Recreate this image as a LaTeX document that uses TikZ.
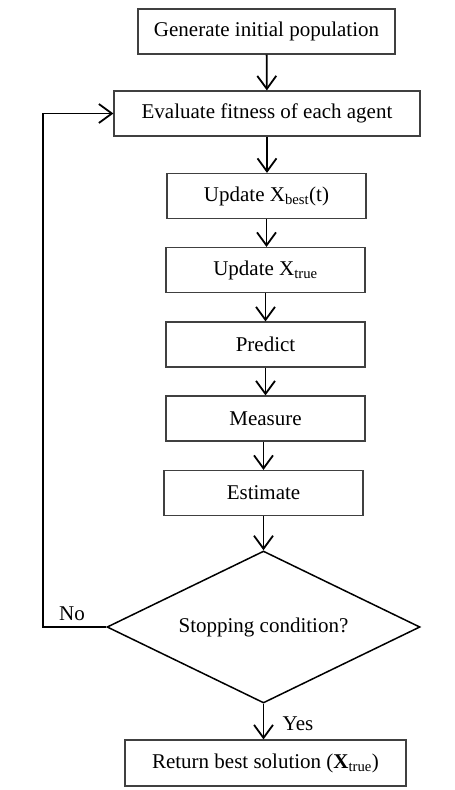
\documentclass[tikz,border=0pt]{standalone}
\usepackage{fontspec}
\setmainfont{Liberation Serif}
\usetikzlibrary{shapes.geometric,arrows.meta}
\begin{document}
\begin{tikzpicture}[x=1pt,y=-1pt,
  procbox/.style={draw=black!75,line width=1.2pt,minimum height=45pt,inner sep=0pt,font=\fontsize{21}{25}\selectfont},
  decision/.style={draw=black,line width=1.5pt,shape=diamond,aspect=2.06,minimum width=313pt,minimum height=152pt,inner sep=0pt,font=\fontsize{21}{25}\selectfont},
  flow/.style={line width=1.8pt,-{Straight Barb[length=13pt,width=19pt,line width=1.8pt]}},
  lbl/.style={font=\fontsize{21}{25}\selectfont,inner sep=0pt}]
\useasboundingbox (0,0) rectangle (455,790);
\node[procbox,minimum width=257pt] (gen) at (266.5,31.5) {Generate initial population};
\node[procbox,minimum width=306pt] (eval) at (267,113.5) {Evaluate fitness of each agent};
\node[procbox,minimum width=199pt] (best) at (266.5,196) {Update X\textsubscript{best}(t)};
\node[procbox,minimum width=199pt] (true) at (265.5,270) {Update X\textsubscript{true}};
\node[procbox,minimum width=199pt] (pred) at (265.5,344.5) {Predict};
\node[procbox,minimum width=199pt] (meas) at (265.5,418.5) {Measure};
\node[procbox,minimum width=199pt] (est) at (263.5,493) {Estimate};
\node[decision] (stop) at (263.5,627) {Stopping condition?};
\node[procbox,minimum width=281pt,minimum height=46pt] (ret) at (265.5,763) {Return best solution (\textbf{X}\textsubscript{true})};
\coordinate (cl) at (43,627);
\coordinate (cu) at (43,113.5);
\draw[flow] (gen) -- (eval);
\draw[flow] (eval) -- (eval|-best.north);
\draw[flow] (best) -- (best|-true.north);
\draw[flow] (true) -- (pred);
\draw[flow] (pred) -- (meas);
\draw[flow] (meas.south-|est) -- (est);
\draw[flow] (est) -- (stop);
\draw[flow] (stop) -- (stop|-ret.north);
\draw[flow] (stop.west) -- (cl) -- (cu) -- (eval.west);
\node[lbl] (no) at (72,614) {No};
\node[lbl] (yes) at (298,724) {Yes};
\end{tikzpicture}
\end{document}
